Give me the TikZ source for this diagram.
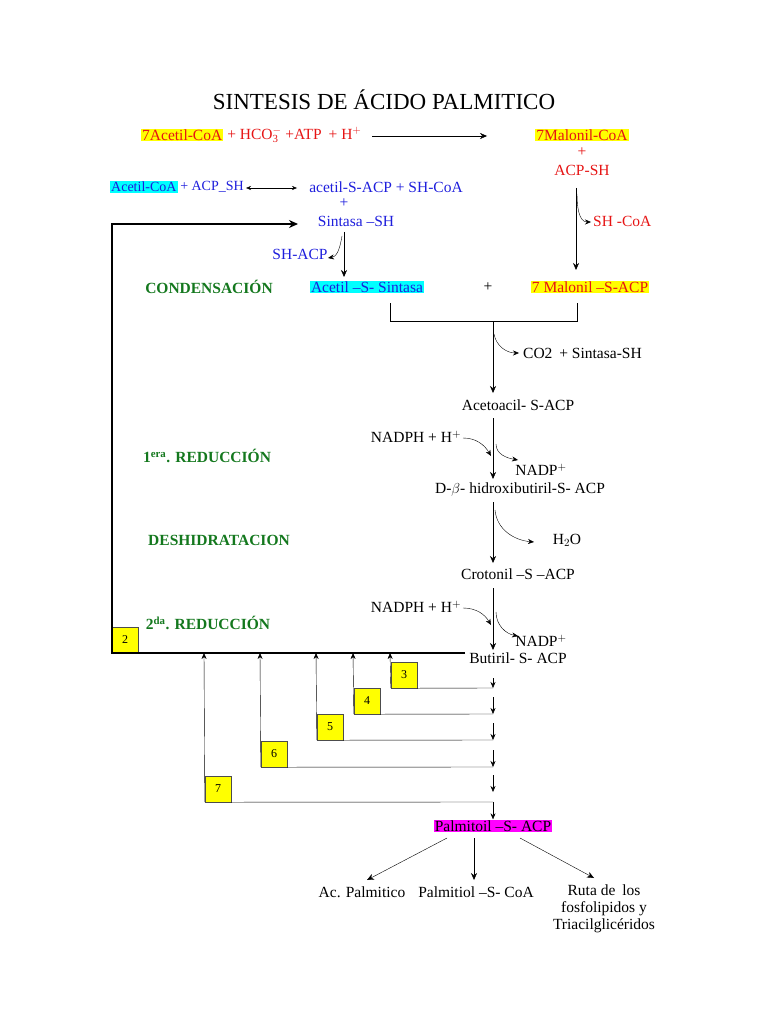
\documentclass[tikz,border=0pt]{standalone}
\usepackage{fontspec}
\setmainfont{Liberation Serif}
\usetikzlibrary{arrows.meta}
\definecolor{cy}{RGB}{0,255,255}
\definecolor{mg}{RGB}{255,0,255}
\definecolor{yl}{RGB}{255,255,0}
\definecolor{rd}{RGB}{230,20,20}
\definecolor{bl}{RGB}{30,30,220}
\definecolor{gr}{RGB}{20,120,30}
\begin{document}
\begin{tikzpicture}[x=1pt,y=-1pt,
  t/.style={inner sep=1pt,font=\fontsize{15.5}{17}\selectfont},
  rt/.style={t,text=rd},
  bt/.style={t,text=bl},
  grn/.style={t,text=gr,font=\fontsize{15.5}{17}\selectfont\bfseries},
  ar/.style={-{Stealth[length=7pt,width=6pt]},thin},
  sar/.style={-{Stealth[length=6pt,width=5pt]},thin},
  num/.style={draw=black!70,fill=yl,minimum size=26pt,inner sep=0pt,font=\fontsize{12}{13}\selectfont},
  thk/.style={line width=2.4pt}]
\useasboundingbox (0,0) rectangle (768,1024);
\node[t,font=\fontsize{23}{25}\selectfont] (title) at (384,100) {SINTESIS DE ÁCIDO PALMITICO};
% row 1
\node[rt,fill=yl,anchor=west] (ac7) at (141,135) {7Acetil-CoA};
\node[rt,anchor=west] (hco) at (ac7.east) {\,+ HCO$^{\mathrm{-}}_{\mathrm{3}}$ +ATP \hspace{3pt}+ H$^{+}$};
\node[rt,fill=yl] (mal7) at (582,135) {7Malonil-CoA};
\node[rt] (pl1) at (582,152) {+};
\node[rt] (acpsh) at (582,170) {ACP-SH};
\coordinate (a1) at (372,136); \coordinate (a2) at (487,136);
\draw[ar] (a1) -- (a2);
% row 2
\node[bt,fill=cy,anchor=west,font=\fontsize{14}{15}\selectfont] (ac) at (110,187) {Acetil-CoA};
\node[bt,anchor=west,font=\fontsize{14}{15}\selectfont,inner sep=0pt] (acp) at (ac.east) {\,+ ACP\_SH};
\coordinate (d1) at (246,188); \coordinate (d2) at (297,188);
\draw[{Stealth[length=5pt,width=4pt]}-{Stealth[length=5pt,width=4pt]},thin] (d1) -- (d2);
\node[bt] (asacp) at (386,187) {acetil-S-ACP + SH-CoA};
\node[bt] (pl2) at (344,203) {+};
\node[bt] (sint) at (356,221) {Sintasa –SH};
\node[bt] (shacp) at (300,254) {SH-ACP};
\coordinate (s1) at (344,232); \coordinate (s2) at (344,277);
\draw[ar] (s1) -- (s2);
\coordinate (c1) at (342,236); \coordinate (c2) at (328,258);
\draw[sar] (c1) to[out=-100,in=10] (c2);
\coordinate (m1) at (576,188); \coordinate (m2) at (576,270);
\draw[ar] (m1) -- (m2);
\coordinate (e1) at (577,194); \coordinate (e2) at (591,222);
\draw[sar] (e1) to[out=-90,in=180] (e2);
\node[rt,anchor=west] (shcoa) at (592,221) {SH -CoA};
% condensation
\node[grn] (cond) at (209,287) {CONDENSACIÓN};
\node[bt,fill=cy] (acs) at (367,287) {Acetil –S- Sintasa};
\node[t] (pl3) at (488,287) {+};
\node[rt,fill=yl] (mals) at (590,287) {7 Malonil –S-ACP};
\coordinate (b1) at (390,303); \coordinate (b2) at (390,321);
\coordinate (b3) at (577,321); \coordinate (b4) at (577,303);
\draw (b1) -- (b2) -- (b3) -- (b4);
\coordinate (v1) at (493,321); \coordinate (v2) at (493,393);
\draw[ar] (v1) -- (v2);
\coordinate (f1) at (494,334); \coordinate (f2) at (519,353);
\draw[sar] (f1) to[out=-80,in=180] (f2);
\node[t,anchor=west] (co2) at (522,353) {CO2 \hspace{3pt}+ Sintasa-SH};
\node[t] (aceto) at (518,405) {Acetoacil- S-ACP};
% 1st reduction
\node[grn] (r1) at (207,456) {1$^{\mathbf{era}}$. REDUCCIÓN};
\node[t] (nadph1) at (416,437) {NADPH + H$^{+}$};
\coordinate (g1) at (493,418); \coordinate (g2) at (493,479);
\draw[ar] (g1) -- (g2);
\coordinate (h1) at (463,438); \coordinate (h2) at (491,456);
\draw[sar] (h1) to[out=0,in=120] (h2);
\coordinate (h3) at (496,444); \coordinate (h4) at (518,460);
\draw[sar] (h3) to[out=-90,in=170] (h4);
\node[t] (nadp1) at (541,470) {NADP$^{+}$};
\node[t] (hidro) at (520,490) {D-$\beta$- hidroxibutiril-S- ACP};
% deshidratacion
\node[grn] (desh) at (219,540) {DESHIDRATACION};
\coordinate (k1) at (493,502); \coordinate (k2) at (493,563);
\draw[ar] (k1) -- (k2);
\coordinate (k3) at (495,510); \coordinate (k4) at (534,542);
\draw[sar] (k3) to[out=-85,in=175] (k4);
\node[t] (h2o) at (567,540) {H$_{2}$O};
\node[t] (crot) at (518,574) {Crotonil –S –ACP};
% 2nd reduction
\node[grn] (r2) at (208,623) {2$^{\mathbf{da}}$. REDUCCIÓN};
\node[t] (nadph2) at (416,607) {NADPH + H$^{+}$};
\coordinate (n1) at (493,588); \coordinate (n2) at (493,650);
\draw[ar] (n1) -- (n2);
\coordinate (p1) at (463,608); \coordinate (p2) at (491,625);
\draw[sar] (p1) to[out=0,in=120] (p2);
\coordinate (p3) at (496,612); \coordinate (p4) at (518,636);
\draw[sar] (p3) to[out=-90,in=170] (p4);
\node[t] (nadp2) at (541,641) {NADP$^{+}$};
\node[t] (but) at (518,658) {Butiril- S- ACP};
% loop
\node[num] (n2b) at (125,640) {2};
\coordinate (L1) at (465,653); \coordinate (L2) at (112,653);
\coordinate (L3) at (112,224); \coordinate (L4) at (298,224);
\draw[thk,-{Stealth[length=9pt,width=8pt]}] (L1) -- (L2) -- (L3) -- (L4);
% numbered boxes
\foreach \n/\x/\y in {3/404/675,4/367/701,5/330/727,6/274/754,7/218/789}{
  \node[num] (b\n) at (\x,\y) {\n};
  \coordinate (up\n) at (\x-14,653);
  \coordinate (ri\n) at (493,\y+13);
  \draw[sar] (b\n.south west) -- (up\n);
  \draw (b\n.south east) -- (ri\n);
}
\coordinate (q1) at (493,678); \draw[sar] (q1) -- (ri3);
\coordinate (q2) at (493,697); \draw[sar] (q2) -- (ri4);
\coordinate (q3) at (493,723); \draw[sar] (q3) -- (ri5);
\coordinate (q4) at (493,750); \draw[sar] (q4) -- (ri6);
\coordinate (q5) at (493,775); \coordinate (q6) at (493,792); \draw[sar] (q5) -- (q6);
\node[t,fill=mg] (palm) at (493,826) {Palmitoil –S- ACP};
\draw[sar] (ri7) -- (palm.north);
% products
\node[t] (acp2) at (362,892) {Ac. Palmitico};
\node[t] (pcoa) at (476,892) {Palmitiol –S- CoA};
\node[t,align=center] (ruta) at (604,909) {Ruta de \hspace{3pt}los\\fosfolipidos y\\Triacilglicéridos};
\coordinate (o1) at (447,838); \coordinate (o2) at (367,880);
\coordinate (o3) at (474,838); \coordinate (o4) at (474,880);
\coordinate (o5) at (520,838); \coordinate (o6) at (594,878);
\draw[ar] (o1) -- (o2); \draw[ar] (o3) -- (o4); \draw[ar] (o5) -- (o6);
\end{tikzpicture}
\end{document}
